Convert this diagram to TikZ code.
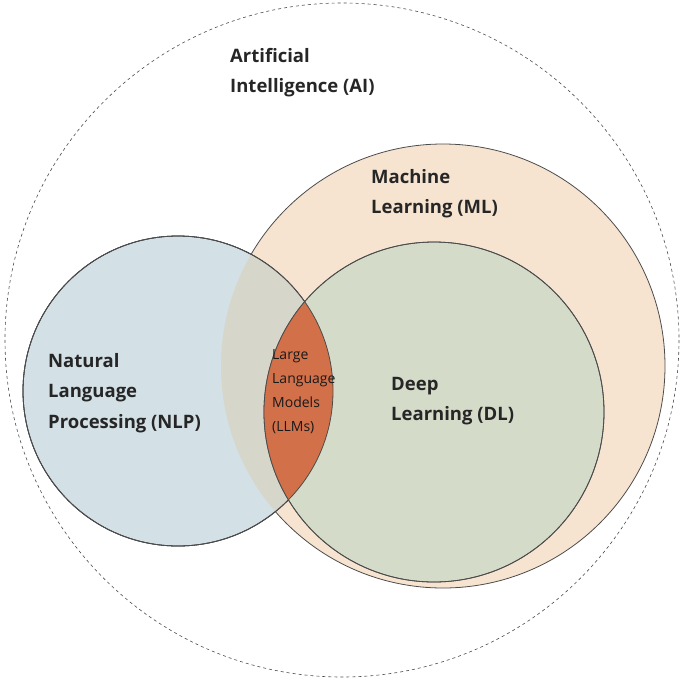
\documentclass[tikz,border=0pt]{standalone}
\usepackage{fontspec}
\setmainfont{Open Sans}
\definecolor{mlc}{RGB}{246,228,209}
\definecolor{nlpc}{RGB}{211,224,230}
\definecolor{ovc}{RGB}{214,214,202}
\definecolor{dlc}{RGB}{212,219,200}
\definecolor{llmc}{RGB}{210,112,74}
\begin{document}
\begin{tikzpicture}[x=1pt,y=-1pt,
  circ/.style={draw=black!70,line width=0.8pt},
  lbl/.style={font=\bfseries\fontsize{18.5}{30.5}\selectfont,align=left,anchor=north west,inner sep=0pt,text=black!85},
  small/.style={font=\fontsize{14}{24}\selectfont,align=left,anchor=north west,inner sep=0pt,text=black!90}]
\useasboundingbox (0,0) rectangle (685,678);
\draw[dashed,black!70,line width=0.6pt] (342,340) circle (337);
\node[circle,minimum size=444,fill=mlc,circ] (ml) at (443,366) {};
\node[circle,minimum size=310,fill=nlpc,circ] (nlp) at (178,391) {};
\begin{scope}
  \clip (443,366) circle (222);
  \fill[ovc] (178,391) circle (155);
\end{scope}
\draw[black!70,line width=0.8pt] (178,391) circle (155);
\node[circle,minimum size=340,fill=dlc,circ] (dl) at (434,412) {};
\begin{scope}
  \clip (434,412) circle (170);
  \fill[llmc] (178,391) circle (155);
\end{scope}
\draw[black!70,line width=0.8pt] (178,391) circle (155);
\draw[black!70,line width=0.8pt] (434,412) circle (170);
\node[lbl] (ai) at (230,48) {Artificial\\Intelligence (AI)};
\node[lbl] (mlt) at (371,169) {Machine\\Learning (ML)};
\node[lbl] (nlpt) at (48,353) {Natural\\Language\\Processing (NLP)};
\node[lbl] (dlt) at (391,377) {Deep\\Learning (DL)};
\node[small] (llm) at (272,349) {Large\\Language\\Models\\(LLMs)};
\end{tikzpicture}
\end{document}
